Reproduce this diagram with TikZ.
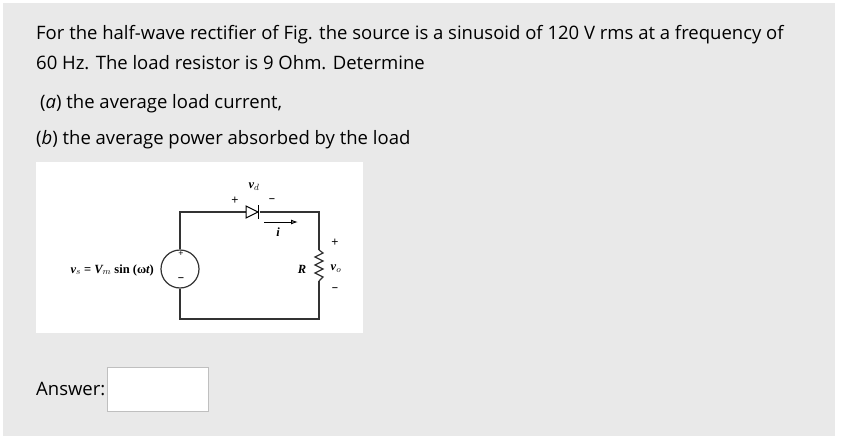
\documentclass[tikz,border=0pt]{standalone}
\usepackage{fontspec}
\usetikzlibrary{arrows.meta}
\setmainfont{Open Sans}
\newfontfamily\serifb{Liberation Serif}
\begin{document}
\begin{tikzpicture}[x=1pt,y=-1pt,
  txt/.style={anchor=base west,inner sep=0pt,font=\fontsize{18.5}{20}\selectfont},
  ct/.style={font=\serifb\bfseries\fontsize{12.5}{14}\selectfont,inner sep=0pt},
  wire/.style={line width=1.2pt,black!80}]
\useasboundingbox (0,0) rectangle (851,436);
\fill[white] (0,0) rectangle (851,436);
\fill[gray!17] (3,3) rectangle (835,436);
\node[txt] (l1) at (36,40) {For the half-wave rectifier of Fig. the source is a sinusoid of 120 V rms at a frequency of};
\node[txt] (l2) at (36,70) {60 Hz. The load resistor is 9 Ohm. Determine};
\node[txt] (la) at (40,108) {(\textit{a}) the average load current,};
\node[txt] (lb) at (36,144) {(\textit{b}) the average power absorbed by the load};
\fill[white] (36,162) rectangle (363,333);
\node[txt] (ans) at (36,395) {Answer:};
\draw[fill=white,draw=gray!50] (107,367) rectangle (208,411);
% circuit
\coordinate (tl) at (180,212); \coordinate (tr) at (319,212);
\coordinate (bl) at (180,319); \coordinate (br) at (319,319);
\node[circle,draw,wire,minimum size=38,inner sep=0] (src) at (180,269) {};
\draw[wire] (src.north) -- (tl) -- (246,212);
\draw[wire] (260,212) -- (tr) -- (319,250);
\draw[wire] (319,250) -- (323,253) -- (315,257) -- (323,261) -- (315,265) -- (323,269) -- (315,273) -- (323,277) -- (319,281);
\draw[wire] (319,281) -- (br) -- (bl) -- (src.south);
\draw[line width=1pt] (246,206) -- (246,218) -- (258,212) -- cycle;
\draw[line width=1pt] (258,205) -- (258,219);
\draw[line width=1pt,-{Latex[open,length=7pt,width=5pt]}] (264,222) -- (298,222);
\node[ct] (pl) at (181,254) {\normalfont\fontsize{9}{9}\selectfont+};
\node[ct] (mi) at (181,280) {\normalfont--};
\node[ct] (vd) at (254,187) {\itshape v$_d$};
\node[ct] (dp) at (235,201) {\normalfont+};
\node[ct] (dm) at (272,201) {\normalfont--};
\node[ct] (ii) at (278,232) {\itshape i};
\node[ct] (rr) at (302,269) {\itshape R};
\node[ct] (op) at (335,243) {\normalfont+};
\node[ct] (vo) at (336,269) {\itshape v$_o$};
\node[ct] (om) at (335,290) {\normalfont--};
\node[ct,anchor=east] (vs) at (154,270) {\itshape v$_s$\upshape\ = \itshape V$_m$\upshape\ sin (ω\itshape t\upshape)};
\end{tikzpicture}
\end{document}
